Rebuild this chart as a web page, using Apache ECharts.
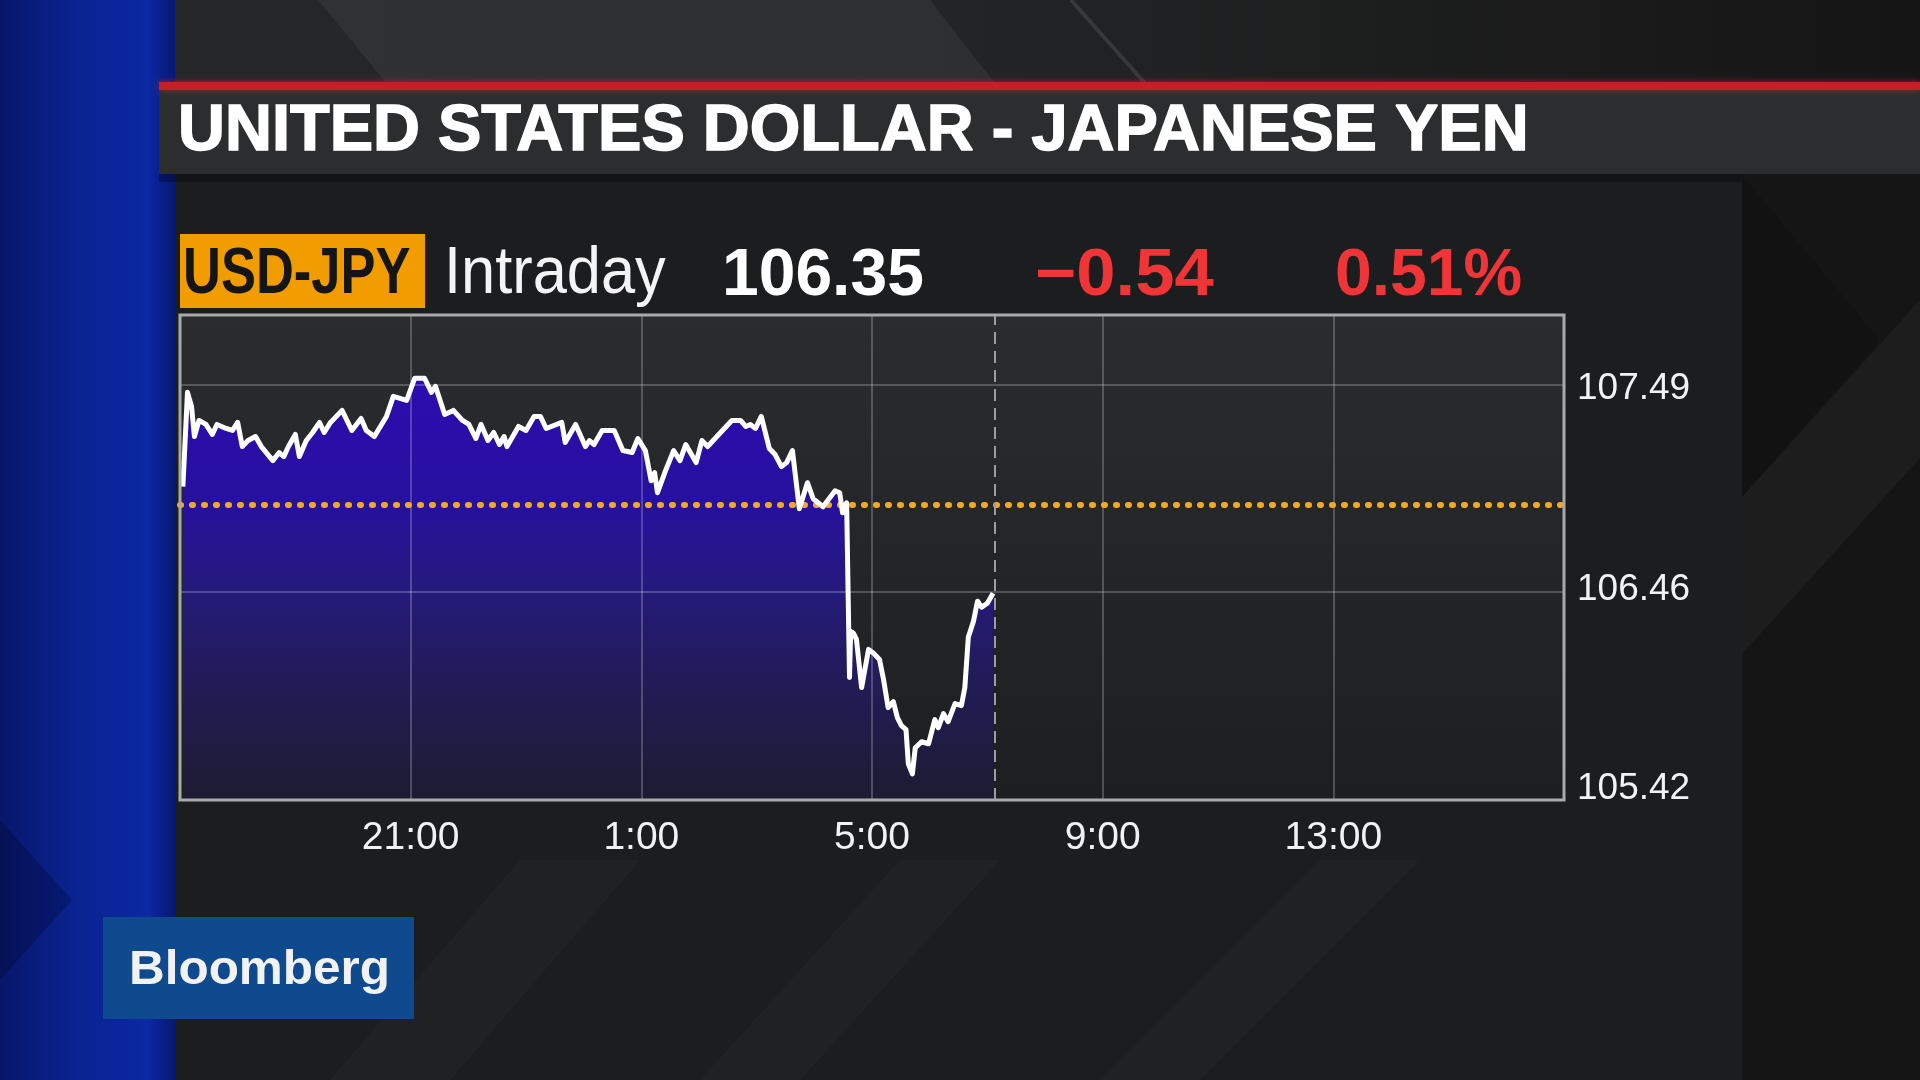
<!DOCTYPE html>
<html><head><meta charset="utf-8">
<script src="https://cdn.jsdelivr.net/npm/echarts@6/dist/echarts.min.js"></script>
<style>html,body{margin:0;padding:0;background:#1c1d1f;overflow:hidden}#c{width:1920px;height:1080px;}</style>
</head><body><div id="c"></div>
<script>
// ---- data (hours after 17:00 on the intraday axis, USD-JPY price) ----
const hours = [0.05,0.13,0.20,0.25,0.33,0.45,0.56,0.64,0.80,0.91,1.00,1.08,1.18,1.31,1.41,1.61,1.72,1.80,1.88,2.00,2.07,2.19,2.30,2.42,2.50,2.61,2.81,2.98,3.14,3.23,3.37,3.58,3.70,3.93,4.07,4.24,4.36,4.43,4.59,4.74,4.90,5.01,5.13,5.22,5.34,5.44,5.54,5.62,5.67,5.87,6.00,6.14,6.25,6.35,6.62,6.68,6.86,7.03,7.10,7.18,7.32,7.53,7.68,7.84,7.94,8.07,8.17,8.23,8.28,8.42,8.56,8.67,8.77,8.95,9.05,9.15,9.31,9.57,9.72,9.81,9.89,9.98,10.08,10.22,10.32,10.43,10.52,10.62,10.74,10.88,10.98,11.15,11.36,11.44,11.49,11.56,11.61,11.63,11.68,11.73,11.82,11.94,12.03,12.13,12.20,12.28,12.37,12.44,12.51,12.59,12.63,12.70,12.75,12.86,12.98,13.09,13.15,13.24,13.32,13.44,13.55,13.61,13.67,13.76,13.83,13.90,14.00,14.10];
const prices = [106.98,107.45,107.38,107.23,107.31,107.29,107.24,107.29,107.27,107.26,107.30,107.18,107.21,107.23,107.18,107.11,107.15,107.13,107.18,107.24,107.13,107.21,107.25,107.30,107.25,107.30,107.36,107.26,107.32,107.26,107.23,107.33,107.43,107.41,107.52,107.52,107.45,107.48,107.34,107.36,107.31,107.29,107.22,107.29,107.21,107.25,107.19,107.23,107.18,107.28,107.26,107.33,107.33,107.27,107.30,107.20,107.29,107.18,107.21,107.19,107.26,107.26,107.16,107.15,107.22,107.16,107.01,107.05,106.95,107.06,107.16,107.11,107.19,107.10,107.21,107.18,107.23,107.31,107.31,107.28,107.29,107.27,107.33,107.17,107.14,107.08,107.10,107.16,106.87,107.00,106.92,106.88,106.96,106.95,106.85,106.90,106.03,106.26,106.25,106.22,105.98,106.17,106.15,106.12,106.02,105.88,105.91,105.83,105.79,105.77,105.60,105.55,105.68,105.71,105.70,105.82,105.78,105.85,105.81,105.90,105.89,105.98,106.23,106.31,106.41,106.38,106.40,106.45];
const xTickValues = [4, 8, 12, 16, 20];
const xTickLabels = ['21:00', '1:00', '5:00', '9:00', '13:00'];
const yTickLabels = ['105.42', '106.46', '107.49'];
const prevClose = 106.89;
const nowHour = 14.12;
const titleText = 'UNITED STATES DOLLAR - JAPANESE YEN';
const tickerText = 'USD-JPY';
const periodText = 'Intraday';
const lastText = '106.35';
const changeText = '\u22120.54';
const pctText = '0.51%';
const brandText = 'Bloomberg';

const FONT = '"Liberation Sans", Arial, Helvetica, sans-serif';
const chart = echarts.init(document.getElementById('c'), null, {renderer: 'canvas'});

const graphics = [
  {type:'rect', z:-10, shape:{x:0,y:0,width:1920,height:1080}, style:{fill:'#1c1d1f'}},
  {type:'rect', z:-9, shape:{x:0,y:0,width:1920,height:90}, style:{fill:{type:'linear',x:0,y:0,x2:1,y2:0,colorStops:[{offset:0,color:'#262728'},{offset:0.5,color:'#232425'},{offset:1,color:'#151515'}]}}},
  {type:'polygon', z:-8, shape:{points:[[318,0],[930,0],[1000,90],[392,90]]}, style:{fill:'rgba(255,255,255,0.05)'}},
  {type:'line', z:-8, shape:{x1:1071,y1:0,x2:1151,y2:90}, style:{stroke:'rgba(255,255,255,0.10)', lineWidth:4}},
  {type:'rect', z:-9, shape:{x:1742,y:174,width:178,height:906}, style:{fill:'#151516'}},
  {type:'polygon', z:-8, shape:{points:[[1742,497],[1920,300],[1920,458],[1742,654]]}, style:{fill:'rgba(255,255,255,0.035)'}},
  {type:'polygon', z:-8, shape:{points:[[1742,175],[1880,340],[1742,497]]}, style:{fill:'rgba(0,0,0,0.12)'}},
  {type:'polygon', z:-8, shape:{points:[[330,1080],[520,860],[640,860],[450,1080]]}, style:{fill:'rgba(255,255,255,0.02)'}},
  {type:'polygon', z:-8, shape:{points:[[700,1080],[900,860],[1000,860],[800,1080]]}, style:{fill:'rgba(255,255,255,0.02)'}},
  {type:'polygon', z:-8, shape:{points:[[1100,1080],[1320,860],[1420,860],[1200,1080]]}, style:{fill:'rgba(255,255,255,0.02)'}},
  {type:'rect', z:-7, shape:{x:0,y:0,width:175,height:1080}, style:{fill:{type:'linear',x:0,y:0,x2:1,y2:0,colorStops:[{offset:0,color:'#07166a'},{offset:0.45,color:'#0a2492'},{offset:0.85,color:'#0b27a2'},{offset:1,color:'#061870'}]}}},
  {type:'polygon', z:-6, shape:{points:[[0,820],[72,900],[0,980]]}, style:{fill:'rgba(0,0,30,0.25)'}},
  {type:'rect', z:-5, shape:{x:159,y:174,width:1583,height:8}, style:{fill:'rgba(0,0,0,0.3)'}},
  {type:'rect', z:-5, shape:{x:159,y:89,width:1761,height:85}, style:{fill:'#2b2d2f'}},
  {type:'rect', z:-4, shape:{x:159,y:82,width:1761,height:8}, style:{fill:'#c21f2b', shadowBlur:6, shadowColor:'rgba(230,40,50,0.6)'}},
  {type:'text', z:5, x:178, y:132, style:{text:titleText, font:'bold 65px ' + FONT, fill:'#ffffff', stroke:'#ffffff', lineWidth:1.5, textAlign:'left', verticalAlign:'middle'}},
  {type:'rect', z:5, shape:{x:180,y:234,width:245,height:74}, style:{fill:'#f19d00'}},
  {type:'text', z:6, x:183, y:275, scaleX:0.82, style:{text:tickerText, font:'bold 64px ' + FONT, fill:'#151515', textAlign:'left', verticalAlign:'middle'}},
  {type:'text', z:6, x:444, y:275, scaleX:0.93, style:{text:periodText, font:'66px ' + FONT, fill:'#f4f4f4', textAlign:'left', verticalAlign:'middle'}},
  {type:'text', z:6, x:722, y:277, style:{text:lastText, font:'bold 66px ' + FONT, fill:'#ffffff', textAlign:'left', verticalAlign:'middle'}},
  {type:'text', z:6, x:1035, y:277, scaleX:1.07, style:{text:changeText, font:'bold 66px ' + FONT, fill:'#f03538', textAlign:'left', verticalAlign:'middle'}},
  {type:'text', z:6, x:1335, y:277, style:{text:pctText, font:'bold 66px ' + FONT, fill:'#f03538', textAlign:'left', verticalAlign:'middle'}},
  {type:'rect', z:50, shape:{x:180,y:315,width:1384,height:485}, style:{fill:null, stroke:'#a9a9a9', lineWidth:3}},
  {type:'rect', z:5, shape:{x:103,y:917,width:311,height:102}, style:{fill:'#0e4a8d'}},
  {type:'text', z:6, x:129, y:971, scaleX:1.03, style:{text:brandText, font:'bold 48px ' + FONT, fill:'#f2f2f2', textAlign:'left', verticalAlign:'middle'}}
];

const seriesData = hours.map((h, i) => [h, prices[i]]);

const option = {
  animation: false,
  backgroundColor: 'transparent',
  textStyle: {fontFamily: FONT},
  graphic: graphics,
  grid: {
    left: 180, right: 356, top: 315, bottom: 280, show: true, z: 0,
    backgroundColor: {type:'linear', x:0, y:0, x2:0, y2:1, colorStops:[{offset:0,color:'#2a2c2e'},{offset:1,color:'#1d1e20'}]},
    borderWidth: 0
  },
  xAxis: {
    type: 'value', min: 0, max: 24, interval: 4, z: 4,
    axisLine: {show:false}, axisTick: {show:false},
    splitLine: {show:true, lineStyle:{color:'rgba(255,255,255,0.22)', width:2}},
    axisLabel: {
      margin: 19, fontSize: 39, color: '#f2f2f2', fontFamily: FONT,
      formatter: function (v) { const i = xTickValues.indexOf(Math.round(v * 1000) / 1000); return i >= 0 ? xTickLabels[i] : ''; }
    }
  },
  yAxis: {
    type: 'value', position: 'right', min: 105.42, max: 107.835, interval: 1.035, z: 4,
    axisLine: {show:false}, axisTick: {show:false},
    splitLine: {show:true, lineStyle:{color:'rgba(255,255,255,0.22)', width:2}},
    axisLabel: {
      margin: 13, fontSize: 37, color: '#f2f2f2', fontFamily: FONT,
      formatter: function (v, i) { const t = yTickLabels[i]; if (!t) return ''; return '{l' + i + '|' + t + '}'; },
      rich: {
        l0: {fontSize:37, color:'#f2f2f2', padding:[9,0,32,0]},
        l1: {fontSize:37, color:'#f2f2f2', padding:[9,0,14,0]},
        l2: {fontSize:37, color:'#f2f2f2', padding:[9,0,0,0]}
      }
    }
  },
  series: [{
    name: 'area',
    type: 'line',
    data: seriesData,
    symbol: 'none',
    z: 2,
    lineStyle: {width: 0, opacity: 0},
    areaStyle: {
      origin: 'start', opacity: 1,
      color: {type:'linear', x:0, y:315, x2:0, y2:800, global:true, colorStops:[
        {offset:0, color:'#2d0bb5'}, {offset:0.25, color:'#2a0ea8'}, {offset:0.4, color:'#26119c'},
        {offset:0.57, color:'#241a7a'}, {offset:0.77, color:'#211c55'}, {offset:1, color:'#1d1b30'}]}
    }
  }, {
    name: 'line',
    type: 'line',
    data: seriesData,
    symbol: 'none',
    z: 6,
    lineStyle: {color: '#ffffff', width: 5, join: 'round'},
    markLine: {
      silent: true, symbol: 'none', label: {show:false}, z: 5,
      data: [
        {yAxis: prevClose, lineStyle: {color:'#f4a824', type:[1,11], width:6, cap:'round'}},
        {xAxis: nowHour, lineStyle: {color:'#9d9d9d', type:[12,7], width:2}}
      ]
    }
  }]
};
chart.setOption(option);
</script>
</body></html>
